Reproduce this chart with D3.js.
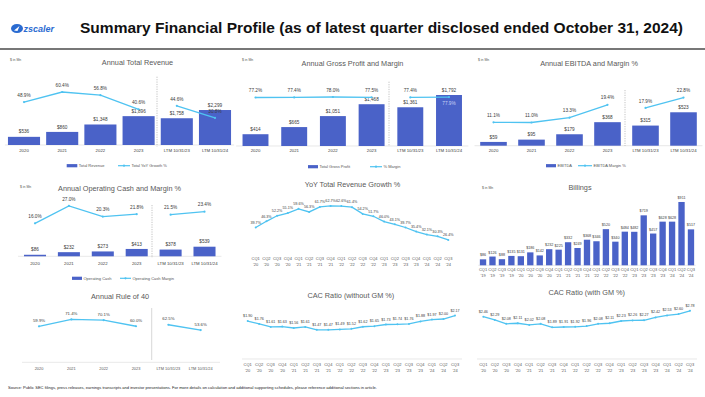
<!DOCTYPE html>
<html>
<head>
<meta charset="utf-8">
<script src="https://cdn.jsdelivr.net/npm/d3@7"></script>
<style>
  html, body { margin: 0; padding: 0; background: #ffffff; }
  svg { display: block; font-family: "Liberation Sans", Arial, sans-serif; }
</style>
</head>
<body>
<script>
// ---- data ----
const annualCats = ['2020', '2021', '2022', '2023', 'LTM 10/31/23', 'LTM 10/31/24'];
const revenue = [536, 860, 1348, 1896, 1758, 2299];
const revenueGrowth = [48.9, 60.4, 56.8, 40.6, 44.6, 30.8];
const grossProfit = [414, 665, 1051, 1468, 1361, 1792];
const grossMargin = [77.2, 77.4, 78.0, 77.5, 77.4, 77.9];
const ebitda = [59, 95, 179, 368, 315, 523];
const ebitdaMargin = [11.1, 11.0, 13.3, 19.4, 17.9, 22.8];
const opCash = [86, 232, 273, 413, 378, 539];
const opCashMargin = [16.0, 27.0, 20.3, 21.8, 21.5, 23.4];
const ruleOf40 = [59.9, 71.4, 70.1, 60.0, 62.5, 53.6];

const quarters20 = ["CQ1 '20", "CQ2 '20", "CQ3 '20", "CQ4 '20", "CQ1 '21", "CQ2 '21", "CQ3 '21", "CQ4 '21",
  "CQ1 '22", "CQ2 '22", "CQ3 '22", "CQ4 '22", "CQ1 '23", "CQ2 '23", "CQ3 '23", "CQ4 '23",
  "CQ1 '24", "CQ2 '24", "CQ3 '24"];
const revenueGrowthQ = [39.7, 46.3, 52.2, 55.1, 59.6, 56.3, 61.7, 62.7, 62.6, 61.4, 54.2, 51.7,
  46.0, 43.1, 39.7, 35.4, 32.1, 30.3, 26.4];
const cacRatio = [1.90, 1.76, 1.61, 1.63, 1.56, 1.61, 1.47, 1.47, 1.49, 1.52, 1.62, 1.65,
  1.73, 1.74, 1.76, 1.88, 1.97, 2.00, 2.17];
const cacRatioGM = [2.46, 2.29, 2.08, 2.11, 2.02, 2.08, 1.89, 1.91, 1.92, 1.96, 2.08, 2.11,
  2.23, 2.26, 2.27, 2.42, 2.53, 2.60, 2.78];

const quarters19 = ["CQ1 '19", "CQ2 '19", "CQ3 '19", "CQ4 '19", "CQ1 '20", "CQ2 '20", "CQ3 '20", "CQ4 '20",
  "CQ1 '21", "CQ2 '21", "CQ3 '21", "CQ4 '21", "CQ1 '22", "CQ2 '22", "CQ3 '22", "CQ4 '22",
  "CQ1 '23", "CQ2 '23", "CQ3 '23", "CQ4 '23", "CQ1 '24", "CQ2 '24", "CQ3 '24"];
const billings = [86, 126, 88, 135, 131, 186, 142, 232, 225, 332, 249, 368, 346, 520, 340, 484,
  482, 719, 457, 628, 628, 911, 517];

// ---- styling ----
const BAR = '#4a62c8';
const LINE = '#4fc3f1';
const TITLE = '#595959';
const LABEL = '#3b3b3b';
const AXIS = '#d9d9d9';

const svg = d3.select('body').append('svg')
  .attr('width', 705)
  .attr('height', 397);

svg.append('rect').attr('width', 705).attr('height', 397).attr('fill', '#ffffff');

function addText(parent, x, y, str, o = {}) {
  const t = parent.append('text')
    .attr('x', x)
    .attr('y', y)
    .attr('dy', '0.35em')
    .attr('font-size', (o.size || 4.5) + 'px')
    .attr('fill', o.fill || LABEL)
    .attr('text-anchor', o.anchor || 'middle')
    .text(str);
  if (o.weight) t.attr('font-weight', o.weight);
  if (o.len) t.attr('textLength', o.len).attr('lengthAdjust', 'spacingAndGlyphs');
  return t;
}

const money = v => '$' + d3.format(',')(v);
const pct = v => v.toFixed(1) + '%';

// ---- header ----
const logo = svg.append('g');
logo.append('ellipse').attr('cx', 17).attr('cy', 28.5).attr('rx', 6).attr('ry', 4.5).attr('fill', '#2a6bd1');
logo.append('path').attr('d', 'M14,30.5 L19.5,26 L17.5,31 Z').attr('fill', '#ffffff');
addText(logo, 23.5, 28.5, 'zscaler', { size: 9, anchor: 'start', fill: '#2a6bd1', weight: 'bold' })
  .attr('font-style', 'italic');

addText(svg, 80, 28, 'Summary Financial Profile (as of latest quarter disclosed ended October 31, 2024)',
  { size: 15.5, anchor: 'start', fill: '#111111', weight: 'bold', len: 603 });

svg.append('line')
  .attr('x1', 0).attr('x2', 705)
  .attr('y1', 49).attr('y2', 49)
  .attr('stroke', '#4a4a4a').attr('stroke-width', 1.6);

// ---- annual bar + line panels ----
function comboPanel(c) {
  const g = svg.append('g');
  const x = d3.scaleBand().domain(annualCats).range(c.xr)
    .paddingInner(c.pad).paddingOuter(c.pad / 2);
  const yBar = d3.scaleLinear().domain(c.barDomain).range([c.base, c.barTop]);
  const yLine = d3.scaleLinear().domain(c.lineDomain).range(c.lineRange);
  const cx = d => x(d) + x.bandwidth() / 2;

  addText(g, c.title[0], c.title[1], c.titleText, { size: 7.3, fill: TITLE });
  addText(g, c.unit[0], c.unit[1], '$ in Mn', { size: 3.4, anchor: 'start', fill: '#555' });

  g.append('line')
    .attr('x1', c.xr[0]).attr('x2', c.xr[1])
    .attr('y1', c.base).attr('y2', c.base)
    .attr('stroke', AXIS).attr('stroke-width', 0.6);

  const bars = annualCats.map((k, i) => ({ k, v: c.bars[i] }));
  g.selectAll('rect.bar').data(bars).join('rect')
    .attr('class', 'bar')
    .attr('x', d => x(d.k))
    .attr('y', d => yBar(d.v))
    .attr('width', x.bandwidth())
    .attr('height', d => c.base - yBar(d.v))
    .attr('fill', BAR);

  g.selectAll('text.barlab').data(bars).join('text')
    .attr('class', 'barlab')
    .attr('x', d => cx(d.k))
    .attr('y', d => yBar(d.v) - 5)
    .attr('dy', '0.35em')
    .attr('text-anchor', 'middle')
    .attr('font-size', '4.7px')
    .attr('fill', LABEL)
    .text(d => money(d.v));

  g.append('line')
    .attr('x1', c.sep[0]).attr('x2', c.sep[0])
    .attr('y1', c.sep[1]).attr('y2', c.sep[2])
    .attr('stroke', '#9a9a9a').attr('stroke-width', 0.6)
    .attr('stroke-dasharray', '1.2,1.2');

  const pts = annualCats.map((k, i) => ({ k, v: c.line[i], i }));
  const line = d3.line().x(d => cx(d.k)).y(d => yLine(d.v));
  [pts.slice(0, 4), pts.slice(4)].forEach(seg => {
    g.append('path').attr('d', line(seg))
      .attr('fill', 'none').attr('stroke', LINE).attr('stroke-width', 1.3);
  });
  g.selectAll('circle.pt').data(pts).join('circle')
    .attr('class', 'pt')
    .attr('cx', d => cx(d.k)).attr('cy', d => yLine(d.v))
    .attr('r', 1.1).attr('fill', LINE);
  g.selectAll('text.ptlab').data(pts).join('text')
    .attr('class', 'ptlab')
    .attr('x', d => cx(d.k))
    .attr('y', d => yLine(d.v) + ((c.below || []).includes(d.i) ? 6.5 : -7))
    .attr('dy', '0.35em')
    .attr('text-anchor', 'middle')
    .attr('font-size', '4.7px')
    .attr('fill', d => (c.below || []).includes(d.i) ? '#c9d3f5' : LABEL)
    .text(d => pct(d.v));

  g.selectAll('text.xlab').data(annualCats).join('text')
    .attr('class', 'xlab')
    .attr('x', d => cx(d))
    .attr('y', c.xlabY)
    .attr('dy', '0.35em')
    .attr('text-anchor', 'middle')
    .attr('font-size', '4.3px')
    .attr('fill', LABEL)
    .text(d => d);

  // legend
  const L = c.legend;
  g.append('rect').attr('x', L.r[0]).attr('y', L.y - 1.6)
    .attr('width', L.r[1] - L.r[0]).attr('height', 3.2).attr('fill', BAR);
  addText(g, L.r[1] + 1.5, L.y, L.barName, { size: 4, anchor: 'start', fill: '#555' });
  g.append('line').attr('x1', L.l[0]).attr('x2', L.l[1]).attr('y1', L.y).attr('y2', L.y)
    .attr('stroke', LINE).attr('stroke-width', 1.2);
  g.append('circle').attr('cx', (L.l[0] + L.l[1]) / 2).attr('cy', L.y).attr('r', 1.1).attr('fill', LINE);
  addText(g, L.l[1] + 1.5, L.y, L.lineName, { size: 4, anchor: 'start', fill: '#555' });
}

comboPanel({
  titleText: 'Annual Total Revenue', title: [137.5, 62.3], unit: [10, 59.5],
  xr: [4.9, 234.1], pad: 0.16, base: 145,
  barDomain: [0, 4600], barTop: 75, bars: revenue,
  lineDomain: [0, 80], lineRange: [145, 74.8], line: revenueGrowth,
  sep: [157, 76.7, 146.7], xlabY: 150.2,
  legend: { y: 165.7, r: [66.7, 77.3], l: [118, 130], barName: 'Total Revenue', lineName: 'Total YoY Growth %' }
});

comboPanel({
  titleText: 'Annual Gross Profit and Margin', title: [352.5, 63], unit: [242, 59.7],
  xr: [236.15, 468.35], pad: 0.33, base: 146,
  barDomain: [0, 2500], barTop: 74.85, bars: grossProfit,
  lineDomain: [0, 100], lineRange: [146, 83.2], line: grossMargin, below: [5],
  sep: [389, 81.7, 146], xlabY: 150.7,
  legend: { y: 166.7, r: [308, 318], l: [370, 382], barName: 'Total Gross Profit', lineName: '% Margin' }
});

comboPanel({
  titleText: 'Annual EBITDA and Margin %', title: [589, 63.3], unit: [478, 59.7],
  xr: [474.5, 702.5], pad: 0.30, base: 145.7,
  barDomain: [0, 1100], barTop: 75.4, bars: ebitda,
  lineDomain: [0, 33], lineRange: [145.7, 76.1], line: ebitdaMargin,
  sep: [625, 90, 146], xlabY: 150.2,
  legend: { y: 165.7, r: [546, 556], l: [578, 592], barName: 'EBITDA', lineName: 'EBITDA Margin %' }
});

comboPanel({
  titleText: 'Annual Operating Cash and Margin %', title: [119.5, 188.3], unit: [20, 187.3],
  xr: [18.05, 221.45], pad: 0.35, base: 256.3,
  barDomain: [0, 3000], barTop: 202.9, bars: opCash,
  lineDomain: [0, 30], lineRange: [248.6, 201.2], line: opCashMargin,
  sep: [152, 205, 258], xlabY: 263.3,
  legend: { y: 278.3, r: [72, 82], l: [120, 131], barName: 'Operating Cash', lineName: 'Operating Cash Margin' }
});

// ---- quarterly line panels ----
function quarterLabels(g, x, cats, y1, y2) {
  cats.forEach(q => {
    const parts = q.split(' ');
    addText(g, x(q), y1, parts[0], { size: 4, fill: '#555' });
    addText(g, x(q), y2, parts[1], { size: 4, fill: '#555' });
  });
}

function quarterLine(c) {
  const g = svg.append('g');
  const x = d3.scalePoint().domain(quarters20).range(c.xr);
  const y = d3.scaleLinear().domain(c.domain).range(c.range);
  addText(g, c.title[0], c.title[1], c.titleText, { size: 7.3, fill: TITLE });
  if (c.axis) {
    g.append('line').attr('x1', c.axis[0]).attr('x2', c.axis[1])
      .attr('y1', c.axis[2]).attr('y2', c.axis[2])
      .attr('stroke', AXIS).attr('stroke-width', 0.6);
  }
  const pts = quarters20.map((q, i) => ({ q, v: c.values[i] }));
  g.append('path').attr('d', d3.line().x(d => x(d.q)).y(d => y(d.v))(pts))
    .attr('fill', 'none').attr('stroke', LINE).attr('stroke-width', 1.3);
  g.selectAll('circle').data(pts).join('circle')
    .attr('cx', d => x(d.q)).attr('cy', d => y(d.v)).attr('r', 1).attr('fill', LINE);
  g.selectAll('text.ptlab').data(pts).join('text')
    .attr('class', 'ptlab')
    .attr('x', d => x(d.q)).attr('y', d => y(d.v) - c.off)
    .attr('dy', '0.35em').attr('text-anchor', 'middle')
    .attr('font-size', c.labSize + 'px').attr('fill', LABEL)
    .text(d => c.fmt(d.v));
  quarterLabels(g, x, quarters20, c.xlab[0], c.xlab[1]);
}

quarterLine({
  titleText: 'YoY Total Revenue Growth %', title: [352.5, 184],
  xr: [255.7, 448.3], domain: [0, 70], range: [264.7, 199.1],
  values: revenueGrowthQ, fmt: pct, off: 5, labSize: 3.7, xlab: [258.3, 264.3]
});

quarterLine({
  titleText: 'CAC Ratio (without GM %)', title: [350.8, 295],
  xr: [247.7, 455], domain: [0, 3], range: [359.8, 298.6],
  values: cacRatio, fmt: v => '$' + v.toFixed(2), off: 5.3, labSize: 3.7,
  axis: [242, 462, 359], xlab: [365, 371]
});

quarterLine({
  titleText: 'CAC Ratio (with GM %)', title: [586.7, 292.3],
  xr: [483.3, 690], domain: [0, 3], range: [362.6, 306.65],
  values: cacRatioGM, fmt: v => '$' + v.toFixed(2), off: 5.3, labSize: 3.7,
  axis: [477, 697, 359], xlab: [365, 371]
});

// ---- billings ----
(function () {
  const g = svg.append('g');
  const x = d3.scaleBand().domain(quarters19).range([478.3, 695.7]).paddingInner(0.33).paddingOuter(0.165);
  const y = d3.scaleLinear().domain([0, 1000]).range([265.3, 195.8]);
  addText(g, 580, 187.3, 'Billings', { size: 7.3, fill: TITLE });
  addText(g, 482, 187.7, '$ in Mn', { size: 3.4, anchor: 'start', fill: '#555' });
  const data = quarters19.map((q, i) => ({ q, v: billings[i] }));
  g.append('line').attr('x1', 478.3).attr('x2', 695.7).attr('y1', 265.3).attr('y2', 265.3)
    .attr('stroke', AXIS).attr('stroke-width', 0.6);
  g.selectAll('rect').data(data).join('rect')
    .attr('x', d => x(d.q)).attr('y', d => y(d.v))
    .attr('width', x.bandwidth()).attr('height', d => y(0) - y(d.v))
    .attr('fill', BAR);
  g.selectAll('text.barlab').data(data).join('text')
    .attr('class', 'barlab')
    .attr('x', d => x(d.q) + x.bandwidth() / 2).attr('y', d => y(d.v) - 4.3)
    .attr('dy', '0.35em').attr('text-anchor', 'middle')
    .attr('font-size', '3.7px').attr('fill', LABEL)
    .text(d => money(d.v));
  const xc = q => x(q) + x.bandwidth() / 2;
  quarterLabels(g, xc, quarters19, 269.8, 275.3);
})();

// ---- rule of 40 ----
(function () {
  const g = svg.append('g');
  const x = d3.scalePoint().domain(annualCats).range([39, 200.7]);
  const y = d3.scaleLinear().domain([0, 100]).range([362, 302.4]);
  addText(g, 120, 296, 'Annual Rule of 40', { size: 7.3, fill: TITLE });
  g.append('line').attr('x1', 22).attr('x2', 220).attr('y1', 362.3).attr('y2', 362.3)
    .attr('stroke', AXIS).attr('stroke-width', 0.6);
  g.append('line').attr('x1', 151.7).attr('x2', 151.7).attr('y1', 308).attr('y2', 360)
    .attr('stroke', '#bdbdbd').attr('stroke-width', 0.6);
  const pts = annualCats.map((k, i) => ({ k, v: ruleOf40[i] }));
  const line = d3.line().x(d => x(d.k)).y(d => y(d.v));
  [pts.slice(0, 4), pts.slice(4)].forEach(seg => {
    g.append('path').attr('d', line(seg)).attr('fill', 'none')
      .attr('stroke', LINE).attr('stroke-width', 1.3);
  });
  g.selectAll('circle').data(pts).join('circle')
    .attr('cx', d => x(d.k)).attr('cy', d => y(d.v)).attr('r', 1.1).attr('fill', LINE);
  g.selectAll('text.ptlab').data(pts).join('text')
    .attr('class', 'ptlab')
    .attr('x', d => x(d.k)).attr('y', d => y(d.v) - 6)
    .attr('dy', '0.35em').attr('text-anchor', 'middle')
    .attr('font-size', '4.3px').attr('fill', LABEL)
    .text(d => pct(d.v));
  g.selectAll('text.xlab').data(annualCats).join('text')
    .attr('class', 'xlab')
    .attr('x', d => x(d)).attr('y', 368.3)
    .attr('dy', '0.35em').attr('text-anchor', 'middle')
    .attr('font-size', '3.9px').attr('fill', '#555')
    .text(d => d);
})();

// ---- footer ----
addText(svg, 8, 387.3, 'Source: Public SEC filings, press releases, earnings transcripts and investor presentations. For more details on calculation  and additional supporting schedules, please reference additional sections in article.',
  { size: 4.4, anchor: 'start', fill: '#222', len: 369 });
</script>
</body>
</html>
